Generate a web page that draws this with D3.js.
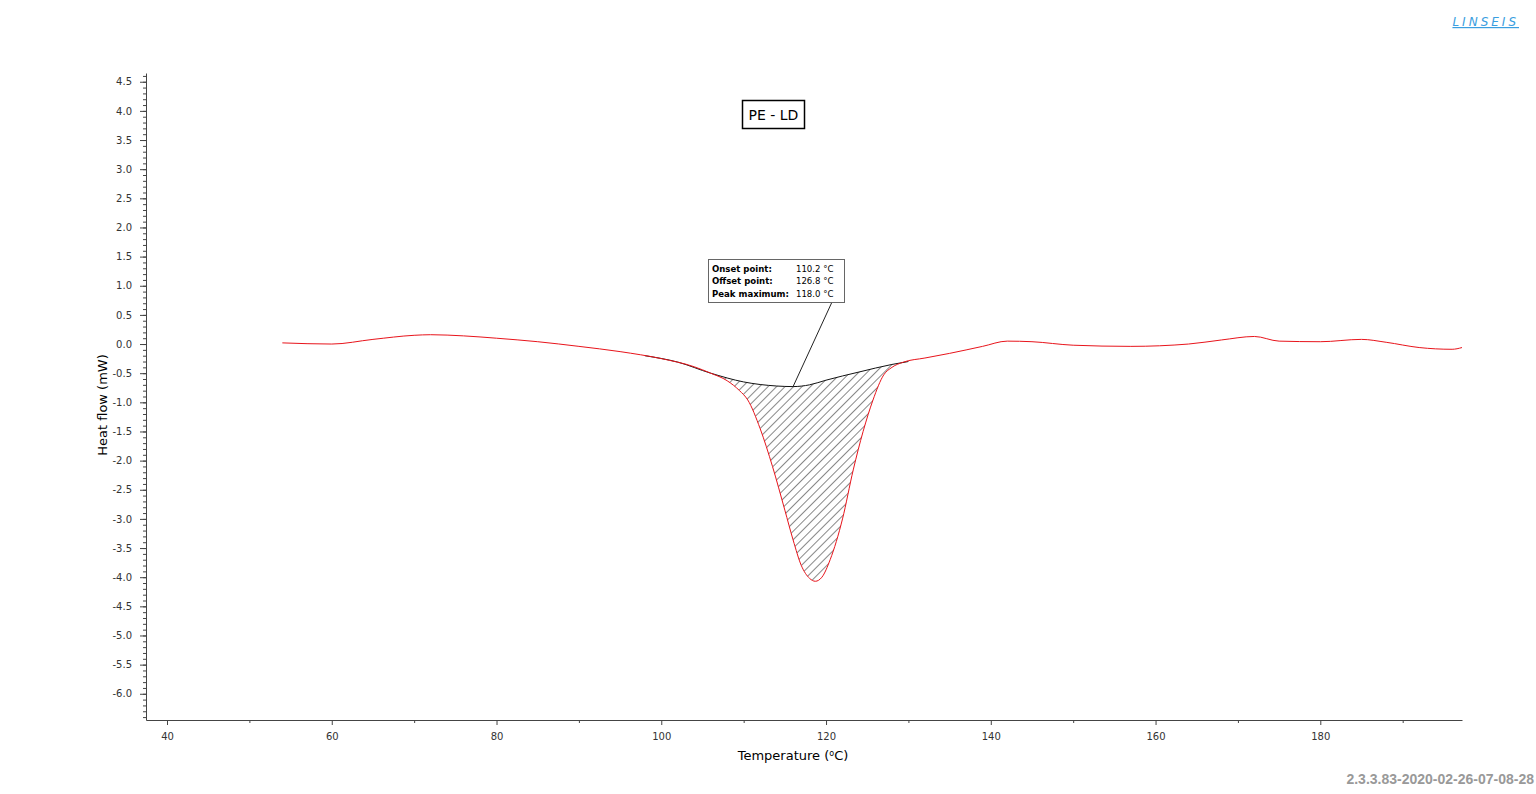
<!DOCTYPE html>
<html>
<head>
<meta charset="utf-8">
<script src="https://cdn.jsdelivr.net/npm/d3@7"></script>
<style>
  body { margin: 0; background: #fff; font-family: "DejaVu Sans", Verdana, sans-serif; }
</style>
</head>
<body>
<div id="chart"></div>
<script>
// DSC curve (temperature °C, heat flow mW)
const temps = [54, 60, 65, 70, 72, 76, 80, 85, 90, 95, 100, 104, 106, 108, 109.5, 110.5, 112, 113.5, 115, 116, 117, 118, 118.7, 119.5, 120.5, 122, 123.3, 124.5, 125.7, 127, 128, 129.4, 132, 135, 139, 142, 145, 150, 157, 164, 168, 172, 175, 180, 185, 188, 192, 196, 197.2];
const flows = [0.02, 0.0, 0.08, 0.15, 0.16, 0.14, 0.1, 0.04, -0.04, -0.13, -0.25, -0.39, -0.5, -0.63, -0.8, -0.96, -1.45, -2.1, -2.85, -3.36, -3.8, -4.02, -4.07, -4.0, -3.7, -3.0, -2.16, -1.5, -0.96, -0.53, -0.4, -0.31, -0.24, -0.16, -0.04, 0.05, 0.04, -0.02, -0.04, 0.0, 0.07, 0.13, 0.05, 0.04, 0.08, 0.03, -0.06, -0.09, -0.06];
// Integration baseline
const baseT = [98, 102, 106, 110, 114, 116, 118, 120, 124, 128, 130];
const baseF = [-0.2, -0.31, -0.5, -0.65, -0.72, -0.73, -0.7, -0.62, -0.48, -0.35, -0.3];
const xTicks = [40, 60, 80, 100, 120, 140, 160, 180];
const yTicks = d3.range(-12, 10).map(i => i * 0.5);
const results = [["Onset point:", "110.2 °C"], ["Offset point:", "126.8 °C"], ["Peak maximum:", "118.0 °C"]];

const width = 1536, height = 794;
const svg = d3.select("#chart").append("svg").attr("width", width).attr("height", height);

const x = d3.scaleLinear().domain([37.45, 197.2]).range([146, 1462]);
const y = d3.scaleLinear().domain([-6.45, 4.65]).range([720, 73]);

const curve = temps.map((t, i) => [t, flows[i]]);
const base = baseT.map((t, i) => [t, baseF[i]]);
const line = d3.line().x(d => x(d[0])).y(d => y(d[1])).curve(d3.curveMonotoneX);

// hatch pattern
const defs = svg.append("defs");
const pat = defs.append("pattern").attr("id", "hatch").attr("patternUnits", "userSpaceOnUse")
  .attr("width", 6).attr("height", 6).attr("patternTransform", "rotate(45)");
pat.append("line").attr("x1", 0).attr("y1", 0).attr("x2", 0).attr("y2", 6)
  .attr("stroke", "#111").attr("stroke-width", 1);

// area between baseline and curve
const seg = curve.filter(d => d[0] >= 104 && d[0] <= 129.4);
const baseSeg = base.filter(d => d[0] >= 104 && d[0] <= 129.4);
svg.append("path")
  .attr("d", line(seg) + "L" + line(baseSeg.slice().reverse()).slice(1) + "Z")
  .attr("fill", "url(#hatch)").attr("stroke", "none");

// axes
const fmt = d => d3.format(".1f")(d).replace("−", "-");
svg.append("g").attr("transform", "translate(0,720)")
  .call(d3.axisBottom(x).tickValues(xTicks).tickSize(5).tickSizeOuter(0).tickPadding(8));
svg.append("g").attr("transform", "translate(0,720)")
  .call(d3.axisBottom(x).tickValues(d3.range(50, 200, 20)).tickSize(3).tickFormat(""))
  .select(".domain").remove();
svg.append("g").attr("transform", "translate(146,0)")
  .call(d3.axisLeft(y).tickValues(yTicks).tickFormat(fmt).tickSize(6).tickSizeOuter(0).tickPadding(8));
svg.append("g").attr("transform", "translate(146,0)")
  .call(d3.axisLeft(y).tickValues(d3.range(-64, 47).map(i => i / 10)).tickSize(3).tickFormat(""))
  .select(".domain").remove();
svg.selectAll(".tick text").attr("font-size", 10).attr("fill", "#333").attr("font-family", "DejaVu Sans");
svg.selectAll(".domain, .tick line").attr("stroke", "#444");

// baseline and curve
svg.append("path").attr("d", line(base)).attr("fill", "none").attr("stroke", "#111").attr("stroke-width", 1);
svg.append("path").attr("d", line(curve)).attr("fill", "none").attr("stroke", "#e8141b").attr("stroke-width", 1);

// labels
svg.append("text").attr("x", 793).attr("y", 760).attr("text-anchor", "middle")
  .attr("font-size", 13).attr("font-family", "DejaVu Sans").html("Temperature (<tspan baseline-shift='super' font-size='8'>o</tspan>C)");
svg.append("text").attr("transform", "rotate(-90)").attr("x", -405).attr("y", 107)
  .attr("text-anchor", "middle").attr("font-size", 13).attr("font-family", "DejaVu Sans").text("Heat flow (mW)");

// title box
svg.append("rect").attr("x", 742.5).attr("y", 100.5).attr("width", 62).attr("height", 28)
  .attr("fill", "#fff").attr("stroke", "#000").attr("stroke-width", 1.5);
svg.append("text").attr("x", 773.5).attr("y", 120).attr("text-anchor", "middle")
  .attr("font-size", 14).attr("font-family", "DejaVu Sans").text("PE - LD");

// result annotation
svg.append("line").attr("x1", 832).attr("y1", 302).attr("x2", x(116)).attr("y2", y(-0.73))
  .attr("stroke", "#222").attr("stroke-width", 1);
svg.append("rect").attr("x", 708.5).attr("y", 259.5).attr("width", 136).attr("height", 43)
  .attr("fill", "#fff").attr("stroke", "#666");
results.forEach((r, i) => {
  svg.append("text").attr("x", 712).attr("y", 272 + i * 12.3).attr("font-size", 9.5)
    .attr("font-weight", "bold").attr("font-family", "DejaVu Sans Condensed, DejaVu Sans").text(r[0]);
  svg.append("text").attr("x", 796).attr("y", 272 + i * 12.3).attr("font-size", 9.5)
    .attr("font-family", "DejaVu Sans Condensed, DejaVu Sans").text(r[1]);
});

// logo & version
svg.append("text").attr("x", 1519).attr("y", 26).attr("text-anchor", "end").attr("font-size", 12)
  .attr("font-style", "italic").attr("fill", "#3a9ee0").attr("letter-spacing", 3)
  .attr("text-decoration", "underline").attr("font-family", "DejaVu Sans").text("LINSEIS");
svg.append("text").attr("x", 1534).attr("y", 784).attr("text-anchor", "end").attr("font-size", 14)
  .attr("font-weight", "bold").attr("fill", "#999").attr("font-family", "Liberation Sans, Arial").text("2.3.3.83-2020-02-26-07-08-28");
</script>
</body>
</html>
